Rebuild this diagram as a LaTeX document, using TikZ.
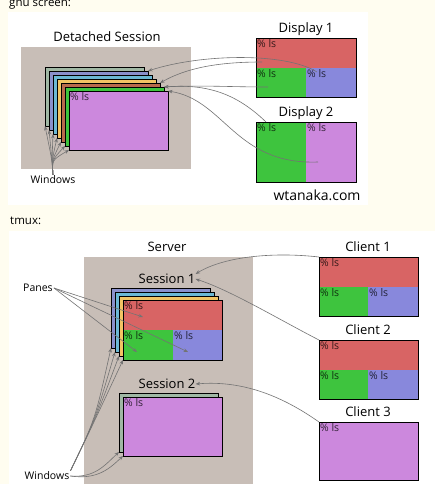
\documentclass[tikz,border=0pt]{standalone}
\usepackage{fontspec}
\setmainfont{Open Sans}
\usetikzlibrary{arrows.meta}
\definecolor{cream}{HTML}{FFFDF0}
\definecolor{boxgray}{HTML}{C8BEB7}
\definecolor{pred}{HTML}{D86464}
\definecolor{pgreen}{HTML}{3EC43E}
\definecolor{pblue}{HTML}{8888DC}
\definecolor{pviolet}{HTML}{CC88DD}
\definecolor{psage}{HTML}{A0B8A4}
\definecolor{plblue}{HTML}{6CB8D4}
\definecolor{pyellow}{HTML}{F2C464}
\definecolor{pbrown}{HTML}{B86A4C}
\definecolor{pbv}{HTML}{8A90CC}
\tikzset{
  win/.style={draw=black, line width=0.8pt, minimum width=99pt, minimum height=59pt, anchor=north west, inner sep=0pt, outer sep=0pt},
  pane/.style={anchor=north west, inner sep=0pt, outer sep=0pt},
  frame/.style={draw=black, line width=0.8pt, anchor=north west, inner sep=0pt, outer sep=0pt, minimum width=100pt, minimum height=59pt},
  lsl/.style={font=\fontsize{10.5}{11}\selectfont, text=black, text opacity=0.75, inner sep=1pt, anchor=north west},
  ttl/.style={font=\fontsize{13}{15}\selectfont, inner sep=0pt},
  hdr/.style={font=\fontsize{11.5}{13}\selectfont, inner sep=0pt, anchor=base west},
  lab/.style={font=\fontsize{10.5}{12}\selectfont, inner sep=1pt},
  conn/.style={draw=black!55, line width=0.6pt, -{Stealth[length=4.5pt,width=3.5pt]}},
}
\begin{document}
\begin{tikzpicture}[x=1pt,y=-1pt]
\useasboundingbox (0,0) rectangle (435,484);
\fill[cream] (0,0) rectangle (435,484);
\fill[white] (8,12) rectangle (368,205);
\fill[white] (9,231) rectangle (435,484);

% ---------------- gnu screen ----------------
\node[hdr] (hscreen) at (9,6.5) {gnu screen:};
\fill[boxgray] (21,47) rectangle (191,169);
\node[ttl] (dsess) at (107,37) {Detached Session};

\foreach \i/\c in {1/psage,2/pbv,3/plblue,4/pyellow,5/pbrown,6/pgreen,7/pviolet}{
  \node[win, fill=\c] (w\i) at ({41+4*\i},{63+4*\i}) {};
}
\node[lsl] (wl7) at (w7.north west) {\% ls};

\node[lab] (wins1) at (53,180) {Windows};
\foreach \i in {1,...,7}{
  \draw[conn] (wins1.north) .. controls (52,160) .. (w\i.south west);
}

% Display 1
\node[ttl] (disp1) at (306,29) {Display 1};
\node[pane, fill=pred, minimum width=100pt, minimum height=30pt] (d1r) at (256,38) {};
\node[pane, fill=pgreen, minimum width=50pt, minimum height=29pt] (d1g) at (256,68) {};
\node[pane, fill=pblue, minimum width=50pt, minimum height=29pt] (d1b) at (306,68) {};
\node[lsl] at (d1r.north west) {\% ls};
\node[lsl] at (d1g.north west) {\% ls};
\node[lsl] at (d1b.north west) {\% ls};
\node[frame] (d1) at (256,38) {};

% Display 2
\node[ttl] (disp2) at (306,113) {Display 2};
\node[pane, fill=pgreen, minimum width=50pt, minimum height=60pt] (d2g) at (256,122) {};
\node[pane, fill=pviolet, minimum width=50pt, minimum height=60pt] (d2v) at (306,122) {};
\node[lsl] at (d2g.north west) {\% ls};
\node[lsl] at (d2v.north west) {\% ls};
\node[frame, minimum height=60pt] (d2) at (256,122) {};

\node[font=\fontsize{14}{16}\selectfont, inner sep=0pt] (site) at (317,195) {wtanaka.com};

\coordinate (pB) at (317,72);
\coordinate (pR) at (262,62);
\coordinate (pG1) at (268,87);
\coordinate (pG2) at (266,122);
\coordinate (pV) at (318,162);
\draw[conn] (pB) .. controls (285,52) and (200,54) .. (w2.north east);
\draw[conn] (pR) .. controls (225,62) and (190,66) .. (w5.north east);
\draw[conn] (pG1) .. controls (230,87) and (200,85) .. (w6.north east);
\draw[conn] (pG2) .. controls (235,92) and (205,84) .. (w6.north east);
\draw[conn] (pV) .. controls (235,165) and (225,100) .. (w7.north east);

% ---------------- tmux ----------------
\node[hdr] (htmux) at (10,224) {tmux:};
\fill[boxgray] (84,257) rectangle (253,484);
\node[ttl] (server) at (167,247) {Server};
\node[ttl] (s1) at (167,279) {Session 1};
\node[ttl] (s2) at (167,384) {Session 2};

\foreach \i/\c in {1/pbv,2/plblue,3/pyellow}{
  \node[win, fill=\c, minimum height=60pt] (t\i) at ({107+4*\i},{284+4*\i}) {};
}
\node[pane, fill=pred, minimum width=99pt, minimum height=30pt] (t4r) at (123,300) {};
\node[pane, fill=pgreen, minimum width=50pt, minimum height=30pt] (t4g) at (123,330) {};
\node[pane, fill=pblue, minimum width=49pt, minimum height=30pt] (t4b) at (173,330) {};
\node[lsl] at (t4r.north west) {\% ls};
\node[lsl] at (t4g.north west) {\% ls};
\node[lsl] at (t4b.north west) {\% ls};
\node[win, minimum height=60pt] (t4) at (123,300) {};

\node[win, fill=psage] (u1) at (119,393) {};
\node[win, fill=pviolet] (u2) at (123,397) {};
\node[lsl] at (u2.north west) {\% ls};

% Clients
\node[ttl] (c1) at (368,247) {Client 1};
\node[pane, fill=pred, minimum width=99pt, minimum height=30pt] (c1r) at (319,257) {};
\node[pane, fill=pgreen, minimum width=49pt, minimum height=29pt] (c1g) at (319,287) {};
\node[pane, fill=pblue, minimum width=50pt, minimum height=29pt] (c1b) at (368,287) {};
\node[lsl] at (c1r.north west) {\% ls};
\node[lsl] at (c1g.north west) {\% ls};
\node[lsl] at (c1b.north west) {\% ls};
\node[frame, minimum width=99pt] (cl1) at (319,257) {};

\node[ttl] (c2) at (368,330) {Client 2};
\node[pane, fill=pred, minimum width=99pt, minimum height=30pt] (c2r) at (319,340) {};
\node[pane, fill=pgreen, minimum width=49pt, minimum height=29pt] (c2g) at (319,370) {};
\node[pane, fill=pblue, minimum width=50pt, minimum height=29pt] (c2b) at (368,370) {};
\node[lsl] at (c2r.north west) {\% ls};
\node[lsl] at (c2g.north west) {\% ls};
\node[lsl] at (c2b.north west) {\% ls};
\node[frame, minimum width=99pt] (cl2) at (319,340) {};

\node[ttl] (c3) at (368,412) {Client 3};
\node[pane, fill=pviolet, minimum width=99pt, minimum height=58pt] (c3v) at (319,422) {};
\node[lsl] at (c3v.north west) {\% ls};
\node[frame, minimum width=99pt, minimum height=58pt] (cl3) at (319,422) {};

\draw[conn] (cl1.north west) .. controls (275,252) and (225,256) .. (s1.north east);
\draw[conn] (cl2.north west) .. controls (280,320) and (230,290) .. (s1.east);
\draw[conn] (cl3.north west) .. controls (285,398) and (245,380) .. (s2.east);

% Panes labels
\node[lab] (panes) at (38,288) {Panes};
\coordinate (pp1) at (143,317);
\coordinate (pp2) at (137,352);
\coordinate (pp3) at (188,352);
\draw[conn] (panes.east) -- (pp1);
\draw[conn] (panes.east) -- (pp2);
\draw[conn] (panes.east) -- (pp3);

% Windows (tmux)
\node[lab] (wins2) at (47,476) {Windows};
\foreach \n in {t1,t2,t3,t4}{
  \draw[conn] (wins2.north east) .. controls (95,420) .. (\n.south west);
}
\draw[conn] (wins2.east) .. controls (95,478) and (105,465) .. (u1.south west);
\draw[conn] (wins2.east) .. controls (98,480) and (110,468) .. (u2.south west);
\end{tikzpicture}
\end{document}
